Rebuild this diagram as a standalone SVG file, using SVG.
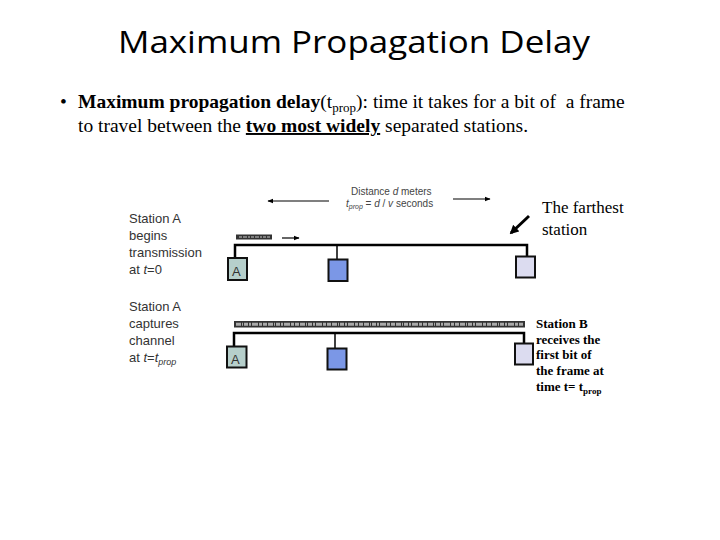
<svg xmlns="http://www.w3.org/2000/svg" width="720" height="540" viewBox="0 0 720 540">
<defs>
<style>
.title{font-family:"Open Sans","Liberation Sans",Arial,sans-serif;font-size:31px;fill:#000}
.body{font-family:"Liberation Serif","Times New Roman",serif;font-size:19.5px;fill:#000}
.lbl{font-family:"Liberation Sans",Arial,sans-serif;font-size:13px;fill:#333}
.small{font-family:"Liberation Sans",Arial,sans-serif;font-size:10px;fill:#444}
.far{font-family:"Liberation Serif","Times New Roman",serif;font-size:17px;fill:#000}
.stb{font-family:"Liberation Serif","Times New Roman",serif;font-size:13px;font-weight:bold;fill:#000}
.bus{fill:none;stroke:#000;stroke-width:2.5}
.wire{fill:none;stroke:#000;stroke-width:1.5}
.box{stroke:#111;stroke-width:2}
.thin{stroke:#000;stroke-width:1.2;fill:none}
</style>
<marker id="ah" viewBox="0 0 10 10" refX="9" refY="5" markerWidth="5" markerHeight="5" orient="auto"><path d="M0,1 L10,5 L0,9 z" fill="#000"/></marker>
<marker id="ahb" viewBox="0 0 10 10" refX="8" refY="5" markerWidth="3" markerHeight="3" orient="auto"><path d="M0,0 L10,5 L0,10 z" fill="#000"/></marker>
</defs>
<rect width="720" height="540" fill="#fff"/>
<text class="title" x="118" y="53" textLength="472" lengthAdjust="spacingAndGlyphs">Maximum Propagation Delay</text>
<text class="body" x="60" y="108">•</text>
<text class="body" x="78" y="108" xml:space="preserve"><tspan font-weight="bold">Maximum propagation delay</tspan>(t<tspan font-size="13" dy="4">prop</tspan><tspan dy="-4">): time it takes for a bit of  a frame</tspan></text>
<text class="body" x="78" y="132">to travel between the <tspan font-weight="bold" text-decoration="underline">two most widely</tspan> separated stations.</text>

<g id="labels-left">
<text class="lbl" x="129" y="223">Station A</text>
<text class="lbl" x="129" y="240">begins</text>
<text class="lbl" x="129" y="257">transmission</text>
<text class="lbl" x="129" y="274">at <tspan font-style="italic">t</tspan>=0</text>
<text class="lbl" x="129" y="311">Station A</text>
<text class="lbl" x="129" y="328">captures</text>
<text class="lbl" x="129" y="345">channel</text>
<text class="lbl" x="129" y="362">at <tspan font-style="italic">t</tspan>=<tspan font-style="italic">t</tspan><tspan font-style="italic" font-size="9" dy="3">prop</tspan></text>
</g>

<g id="distance">
<text class="small" x="351" y="195">Distance <tspan font-style="italic">d</tspan> meters</text>
<text class="small" x="346" y="207"><tspan font-style="italic">t</tspan><tspan font-style="italic" font-size="7" dy="2">prop</tspan><tspan dy="-2"> = </tspan><tspan font-style="italic">d</tspan> / <tspan font-style="italic">v</tspan> seconds</text>
</g>

<g id="connectors">
<line class="thin" x1="329" y1="201" x2="268" y2="201" marker-end="url(#ah)"/>
<line class="thin" x1="453" y1="199" x2="490" y2="199" marker-end="url(#ah)"/>
<line class="thin" x1="282" y1="238" x2="299" y2="238" marker-end="url(#ah)"/>
<line x1="529" y1="216" x2="511" y2="233" stroke="#000" stroke-width="3" marker-end="url(#ahb)"/>
<polyline class="bus" points="235,258 235,245 527,245 527,257"/>
<line class="wire" x1="337" y1="245" x2="337" y2="259"/>
<polyline class="bus" points="234,346 234,333 524,333 524,343"/>
<line class="wire" x1="335" y1="333" x2="335" y2="348"/>
</g>

<g id="frame1">
<rect x="236" y="234.5" width="36" height="5" fill="#333"/>
<line x1="239" y1="237" x2="270" y2="237" stroke="#999" stroke-width="1.5" stroke-dasharray="3 1 4 1 2 1"/>
</g>
<g id="frame2">
<rect x="234" y="321" width="291" height="6.5" fill="#333"/>
<line x1="236" y1="324.2" x2="524" y2="324.2" stroke="#aaa" stroke-width="3" stroke-dasharray="5 1 1 1 4 1 2 1 6 1 3 1 4 1"/>
</g>

<g id="stationA1">
<rect class="box" x="228" y="258" width="19" height="22" fill="#b6cfcb"/>
<text class="lbl" x="232" y="276" font-size="15" fill="#222">A</text>
</g>
<g id="stationM1"><rect class="box" x="328.5" y="259.5" width="19" height="21.5" fill="#7b97e6"/></g>
<g id="stationB1"><rect class="box" x="516" y="256.5" width="19" height="21" fill="#dcdcf0"/></g>

<g id="stationA2">
<rect class="box" x="227" y="346.5" width="19.5" height="21" fill="#b6cfcb"/>
<text class="lbl" x="231" y="364" font-size="15" fill="#222">A</text>
</g>
<g id="stationM2"><rect class="box" x="327.5" y="348.5" width="19" height="21" fill="#7b97e6"/></g>
<g id="stationB2"><rect class="box" x="515" y="343.5" width="18" height="21" fill="#dcdcf0"/></g>

<g id="farthest">
<text class="far" x="542" y="213">The farthest</text>
<text class="far" x="542" y="235">station</text>
</g>
<g id="stationBtext">
<text class="stb" x="536" y="328">Station B</text>
<text class="stb" x="536" y="344">receives the</text>
<text class="stb" x="536" y="359">first bit of</text>
<text class="stb" x="536" y="375">the frame at</text>
<text class="stb" x="536" y="391">time t= t<tspan font-size="9" dy="3">prop</tspan></text>
</g>
</svg>
